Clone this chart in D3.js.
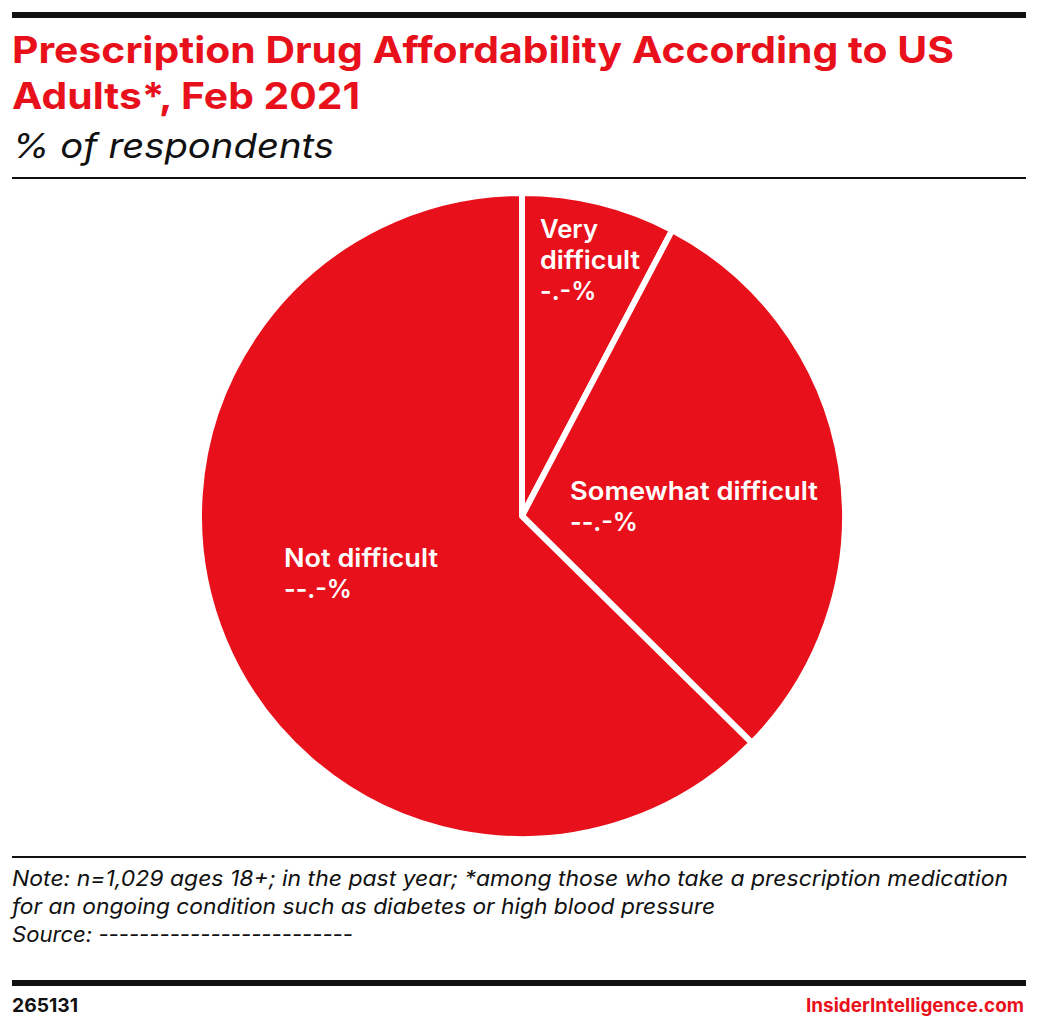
<!DOCTYPE html>
<html><head><meta charset="utf-8">
<script src="https://cdn.jsdelivr.net/npm/d3@7"></script>
<style>body{margin:0;background:#fff;font-family:Inter,"Noto Sans",sans-serif}</style>
</head><body><svg id="c" width="1038" height="1029"></svg>
<script>
const categories=["Very difficult","Somewhat difficult","Not difficult"];
const values=[7.7,29.7,62.6];
const valueLabels=["-.-%","--.-%","--.-%"];
const svg=d3.select("#c");
const red="#e8111b";
function txt(x,y,s,size,opts,len){
  const t=svg.append("text").attr("x",x).attr("y",y).attr("font-size",size).text(s);
  Object.entries(opts).forEach(([k,v])=>t.attr(k,v));
  if(len) t.attr("textLength",len).attr("lengthAdjust","spacingAndGlyphs");
  return t;
}
svg.append("rect").attr("x",12).attr("y",12).attr("width",1014).attr("height",6).attr("fill","#111");
txt(12,63,"Prescription Drug Affordability According to US",37,{fill:red,"font-weight":700},942);
txt(12,109,"Adults*, Feb 2021",37,{fill:red,"font-weight":700},348);
txt(12,158,"% of respondents",34,{fill:"#111","font-style":"italic"},322);
svg.append("rect").attr("x",12).attr("y",177).attr("width",1014).attr("height",2).attr("fill","#111");
const cx=522,cy=516,r=323;
const pie=d3.pie().sort(null).value(d=>d)(values);
const arc=d3.arc().innerRadius(0).outerRadius(r);
const g=svg.append("g").attr("transform",`translate(${cx},${cy})`);
g.selectAll("path").data(pie).join("path").attr("d",arc).attr("fill",red).attr("stroke","#fff").attr("stroke-width",6).attr("stroke-linejoin","round");
const lab=[[540,238,["Very","difficult"],[58,100]],[570,500,["Somewhat difficult"],[248]],[284,567,["Not difficult"],[154]]];
lab.forEach((l,i)=>{
  const t=svg.append("text").attr("fill","#fff").attr("font-size",25).attr("font-weight",600);
  l[2].forEach((s,j)=>t.append("tspan").attr("x",l[0]).attr("y",l[1]+j*31).attr("textLength",l[3][j]).attr("lengthAdjust","spacingAndGlyphs").text(s));
  t.append("tspan").attr("x",l[0]).attr("y",l[1]+l[2].length*31).text(valueLabels[i]);
});
svg.append("rect").attr("x",12).attr("y",856).attr("width",1014).attr("height",2).attr("fill","#111");
txt(12,886,"Note: n=1,029 ages 18+; in the past year; *among those who take a prescription medication",21,{fill:"#111","font-style":"italic"},996);
txt(12,914,"for an ongoing condition such as diabetes or high blood pressure",21,{fill:"#111","font-style":"italic"},703);
txt(12,942,"Source: -------------------------",21,{fill:"#111","font-style":"italic"},341);
svg.append("rect").attr("x",12).attr("y",980).attr("width",1014).attr("height",6).attr("fill","#111");
txt(12,1012,"265131",19,{fill:"#111","font-weight":700},66);
txt(1024,1012,"InsiderIntelligence.com",19,{fill:red,"font-weight":700,"text-anchor":"end"},218);
</script></body></html>
